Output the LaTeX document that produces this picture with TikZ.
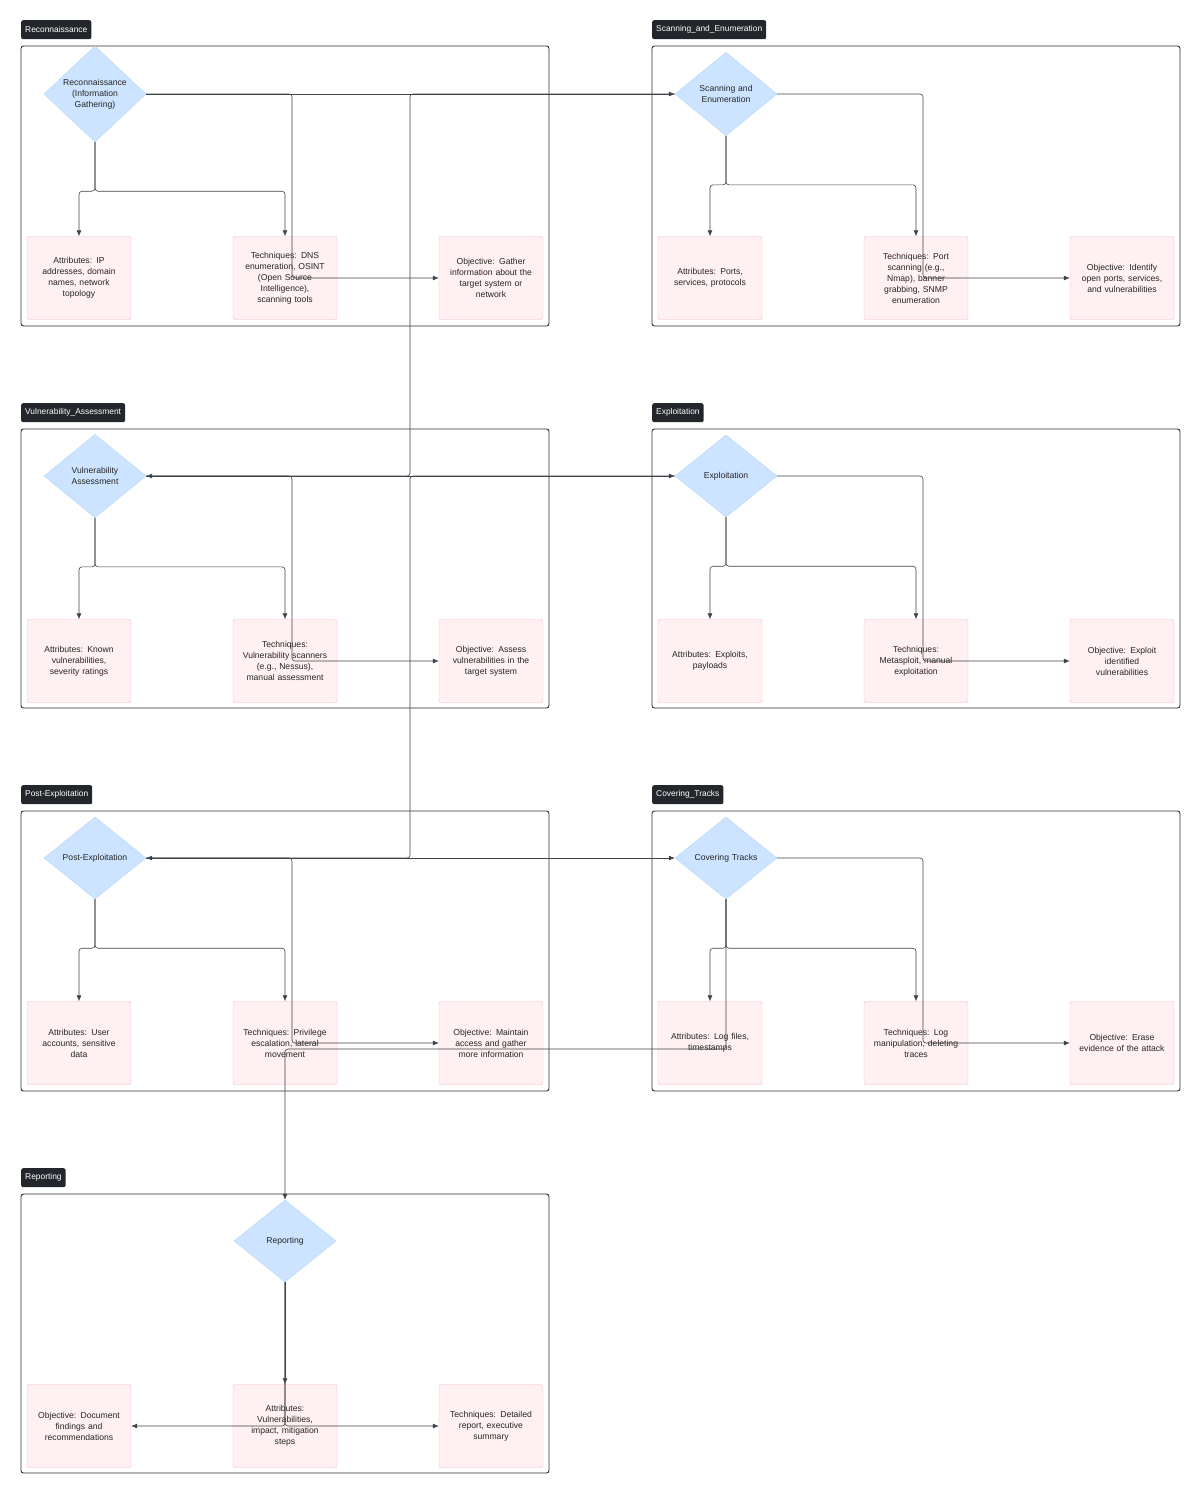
\documentclass[tikz,border=0pt]{standalone}
\usepackage{fontspec}
\setmainfont{Liberation Sans}
\usetikzlibrary{shapes.geometric,arrows.meta}
\definecolor{labbg}{HTML}{23262B}
\definecolor{diab}{HTML}{CCE4FF}
\definecolor{diad}{HTML}{B5D5FA}
\definecolor{pinkf}{HTML}{FFF0F1}
\definecolor{pinkb}{HTML}{F8B4D2}
\definecolor{clb}{HTML}{2E2E2E}
\definecolor{conc}{HTML}{3F4249}
\begin{document}
\begin{tikzpicture}[x=1pt,y=-1pt,
  every node/.style={font=\fontsize{8.6}{11}\selectfont, text=black!85},
  cl/.style={draw=clb, rounded corners=2.5pt, line width=0.9pt},
  lab/.style={fill=labbg, text=white, rounded corners=2pt, font=\fontsize{8.4}{10}\selectfont, inner xsep=4pt, minimum height=19pt, anchor=north west},
  dia/.style={diamond, draw=diad, fill=diab, minimum width=102pt, minimum height=82pt, inner sep=0pt, text width=66pt, align=center},
  box/.style={rectangle, draw=pinkb, fill=pinkf, rounded corners=2pt, minimum width=104pt, minimum height=83pt, text width=92pt, align=center, inner sep=0pt},
  con/.style={draw=conc, line width=0.6pt, rounded corners=3pt, -{Latex[length=6pt,width=5pt]}},
  lin/.style={draw=conc, line width=0.6pt, rounded corners=3pt}]
\useasboundingbox (0,0) rectangle (1200,1494);
% clusters
\draw[cl] (21,46) rectangle (549,326);
\draw[cl] (652,46) rectangle (1180,326);
\draw[cl] (21,429) rectangle (549,708);
\draw[cl] (652,429) rectangle (1180,708);
\draw[cl] (21,811) rectangle (549,1091);
\draw[cl] (652,811) rectangle (1180,1091);
\draw[cl] (21,1194) rectangle (549,1473);
\node[lab] (L1) at (21,20) {Reconnaissance};
\node[lab] (L2) at (652,20) {Scanning\_and\_Enumeration};
\node[lab] (L3) at (21,403) {Vulnerability\_Assessment};
\node[lab] (L4) at (652,403) {Exploitation};
\node[lab] (L5) at (21,785) {Post-Exploitation};
\node[lab] (L6) at (652,785) {Covering\_Tracks};
\node[lab] (L7) at (21,1168) {Reporting};
% diamonds
\node[dia] (d1) at (95,94) {Reconnaissance\\(Information\\Gathering)};
\node[dia] (d2) at (726,94) {Scanning and\\Enumeration};
\node[dia] (d3) at (95,476) {Vulnerability\\Assessment};
\node[dia] (d4) at (726,476) {Exploitation};
\node[dia] (d5) at (95,858) {Post-Exploitation};
\node[dia] (d6) at (726,858) {Covering Tracks};
\node[dia] (d7) at (285,1241) {Reporting};
% boxes
\node[box] (a1) at (79,278) {Attributes: IP\\addresses, domain\\names, network\\topology};
\node[box] (t1) at (285,278) {Techniques: DNS\\enumeration, OSINT\\(Open Source\\Intelligence),\\scanning tools};
\node[box] (o1) at (491,278) {Objective: Gather\\information about the\\target system or\\network};
\node[box] (a2) at (710,278) {Attributes: Ports,\\services, protocols};
\node[box] (t2) at (916,278) {Techniques: Port\\scanning (e.g.,\\Nmap), banner\\grabbing, SNMP\\enumeration};
\node[box] (o2) at (1122,278) {Objective: Identify\\open ports, services,\\and vulnerabilities};
\node[box] (a3) at (79,661) {Attributes: Known\\vulnerabilities,\\severity ratings};
\node[box] (t3) at (285,661) {Techniques:\\Vulnerability scanners\\(e.g., Nessus),\\manual assessment};
\node[box] (o3) at (491,661) {Objective: Assess\\vulnerabilities in the\\target system};
\node[box] (a4) at (710,661) {Attributes: Exploits,\\payloads};
\node[box] (t4) at (916,661) {Techniques:\\Metasploit, manual\\exploitation};
\node[box] (o4) at (1122,661) {Objective: Exploit\\identified\\vulnerabilities};
\node[box] (a5) at (79,1043) {Attributes: User\\accounts, sensitive\\data};
\node[box] (t5) at (285,1043) {Techniques: Privilege\\escalation, lateral\\movement};
\node[box] (o5) at (491,1043) {Objective: Maintain\\access and gather\\more information};
\node[box] (a6) at (710,1043) {Attributes: Log files,\\timestamps};
\node[box] (t6) at (916,1043) {Techniques: Log\\manipulation, deleting\\traces};
\node[box] (o6) at (1122,1043) {Objective: Erase\\evidence of the attack};
\node[box] (o7) at (79,1426) {Objective: Document\\findings and\\recommendations};
\node[box] (a7) at (285,1426) {Attributes:\\Vulnerabilities,\\impact, mitigation\\steps};
\node[box] (t7) at (491,1426) {Techniques: Detailed\\report, executive\\summary};
% intra-cluster connectors
\foreach \i in {1,...,6}{
  \draw[con] (d\i.south) -- ++(0,49) -| (a\i.north);
  \draw[con] (d\i.south) -- ++(0,49) -| (t\i.north);
  \draw[con] (d\i.east) -| ([xshift=7pt]t\i.center) -- (o\i.west);
}
% inter-cluster connectors
\draw[con] (d1.east) -- (d2.west);
\draw[con] (d2.west) -- (410,94) |- (d3.east);
\draw[con] (d3.east) -- (d4.west);
\draw[con] (d4.west) -- (410,476) |- (d5.east);
\draw[con] (d5.east) -- (d6.west);
\draw[con] (d6.south) -- (726,1049) -| (d7.north);
% reporting
\draw[con] (d7.south) -- (a7.north);
\draw[con] (d7.south) |- (o7.east);
\draw[con] (d7.south) |- (t7.west);
\end{tikzpicture}
\end{document}
